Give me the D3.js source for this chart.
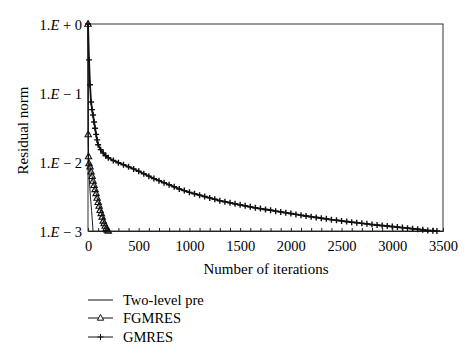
<!DOCTYPE html>
<html><head><meta charset="utf-8">
<script src="https://cdn.jsdelivr.net/npm/d3@7"></script>
<style>body{margin:0;background:#fff}svg{display:block}text{font-family:"Liberation Serif","Times New Roman",serif;fill:#000}</style>
</head><body>
<svg id="c" width="474" height="363"></svg>
<script>
const xTicks = [0,500,1000,1500,2000,2500,3000,3500];
const yTicks = [1,0.1,0.01,0.001];
const yTickLabels = [["+","0"],["−","1"],["−","2"],["−","3"]];
const seriesNames = ["Two-level pre","FGMRES","GMRES"];

const twoLevelIt  = [0,3,6,15,25,35,50];
const twoLevelVal = [1,0.03,0.01,0.005,0.003,0.002,0.001];

const fgmresIt  = [0,2,5,10,20,30,40,50,60,70,80,90,100,110,120,130,140,150,160,170,180,190,200];
const fgmresVal = [1,0.025,0.012,0.0095,0.0085,0.0072,0.0062,0.0053,0.0046,0.0040,0.0035,0.0030,0.0026,0.0023,0.0020,0.0018,0.0016,0.0014,0.00128,0.00118,0.00109,0.00103,0.001];

const gmresIt = [0,10,20,30,40,50,60,70,80,90,100,125,150,175,200,250,300,350,400,450,500,550,600,650,700,750,800,850,900,950,1000,1050,1100,1150,1200,1250,1300,1350,1400,1450,1500,1550,1600,1650,1700,1750,1800,1850,1900,1950,2000,2050,2100,2150,2200,2250,2300,2350,2400,2450,2500,2550,2600,2650,2700,2750,2800,2850,2900,2950,3000,3050,3100,3150,3200,3250,3300,3350,3400,3440];
const gmresVal = [1,0.302,0.132,0.0741,0.0575,0.0479,0.0380,0.0309,0.0251,0.0209,0.0178,0.0151,0.0135,0.0123,0.0115,0.0105,0.00977,0.00912,0.00851,0.00794,0.00733,0.00676,0.00624,0.00575,0.00537,0.00501,0.00468,0.00437,0.00407,0.00385,0.00363,0.00347,0.00331,0.00316,0.00302,0.00288,0.00275,0.00266,0.00257,0.00248,0.00240,0.00232,0.00224,0.00217,0.00211,0.00205,0.00200,0.00194,0.00189,0.00184,0.00179,0.00174,0.00169,0.00165,0.00161,0.00157,0.00153,0.00150,0.00146,0.00143,0.00140,0.00137,0.00134,0.00132,0.00129,0.00127,0.00124,0.00122,0.00120,0.00118,0.00116,0.00114,0.00112,0.00110,0.00108,0.00106,0.00104,0.00102,0.00101,0.00100];

const svg = d3.select("#c");
const L = 88, R = 443, T = 24, B = 231;
const x = d3.scaleLinear().domain([0,3500]).range([L,R]);
const y = d3.scaleLog().domain([0.001,1]).range([B,T]);

svg.append("rect").attr("x",L).attr("y",T).attr("width",R-L).attr("height",B-T)
  .attr("fill","none").attr("stroke","#333").attr("stroke-width",1);

const xAx = d3.axisBottom(x).tickValues(d3.range(0,3501,100)).tickSize(-3).tickFormat("");
const gx = svg.append("g").attr("transform",`translate(0,${B})`).call(xAx);
gx.select(".domain").attr("stroke","#222");
gx.selectAll(".tick line").attr("stroke","#222");
const gxl = svg.append("g").attr("transform",`translate(0,${B})`).call(d3.axisBottom(x).tickValues(xTicks).tickSize(0).tickPadding(10).tickFormat(d3.format("d")));
gxl.select(".domain").remove();
gxl.selectAll("text").attr("font-size","14.5px").attr("font-family","Liberation Serif").attr("fill","#000");

const gy = svg.append("g").attr("transform",`translate(${L},0)`).call(d3.axisLeft(y).tickValues(yTicks).tickSize(0).tickFormat(""));
gy.select(".domain").remove();
gy.selectAll(".tick").each(function(d,i){
  const t = d3.select(this).append("text").attr("x",-6).attr("dy","0.35em").attr("text-anchor","end").attr("font-size","14.5px");
  t.append("tspan").text("1.");
  t.append("tspan").attr("font-style","italic").text("E");
  t.append("tspan").text(" " + yTickLabels[i][0] + " " + yTickLabels[i][1]);
});

svg.append("text").attr("transform",`translate(28,${(T+B)/2+3}) rotate(-90)`).attr("text-anchor","middle").attr("font-size","15px").text("Residual norm");
svg.append("text").attr("x",266).attr("y",274).attr("text-anchor","middle").attr("font-size","15px").text("Number of iterations");

const line = d3.line().x(d=>x(d[0])).y(d=>y(d[1]));
const two = twoLevelIt.map((v,i)=>[v,twoLevelVal[i]]);
const fg = fgmresIt.map((v,i)=>[v,fgmresVal[i]]);
const gm = gmresIt.map((v,i)=>[v,gmresVal[i]]);

const plot = svg.append("g");
plot.append("path").datum(two).attr("d",line).attr("fill","none").attr("stroke","#222").attr("stroke-width",1);
plot.append("path").datum(fg).attr("d",line).attr("fill","none").attr("stroke","#111").attr("stroke-width",1);
plot.append("path").datum(gm).attr("d",line).attr("fill","none").attr("stroke","#111").attr("stroke-width",1.8);

const tri = "M0,-3.5L3.2,2.2L-3.2,2.2Z";
const plus = "M-3,0H3M0,-3V3";
plot.selectAll(".tri").data(fg).join("path").attr("d",tri)
  .attr("transform",d=>`translate(${x(d[0])},${y(d[1])})`).attr("fill","none").attr("stroke","#111").attr("stroke-width",1.1);
plot.selectAll(".pl").data(gm).join("path").attr("d",plus)
  .attr("transform",d=>`translate(${x(d[0])},${y(d[1])})`).attr("fill","none").attr("stroke","#111").attr("stroke-width",1.4);

const lg = svg.append("g");
const ly = [300,318,337];
seriesNames.forEach((n,i)=>{
  lg.append("line").attr("x1",88).attr("x2",113).attr("y1",ly[i]).attr("y2",ly[i]).attr("stroke","#111").attr("stroke-width",1);
  if(i===1) lg.append("path").attr("d",tri).attr("transform",`translate(100.5,${ly[i]})`).attr("fill","#fff").attr("stroke","#111");
  if(i===2) lg.append("path").attr("d",plus).attr("transform",`translate(100.5,${ly[i]})`).attr("fill","none").attr("stroke","#111");
  lg.append("text").attr("x",123).attr("y",ly[i]).attr("dy","0.35em").attr("font-size","14.5px").text(n);
});
</script>
</body></html>
